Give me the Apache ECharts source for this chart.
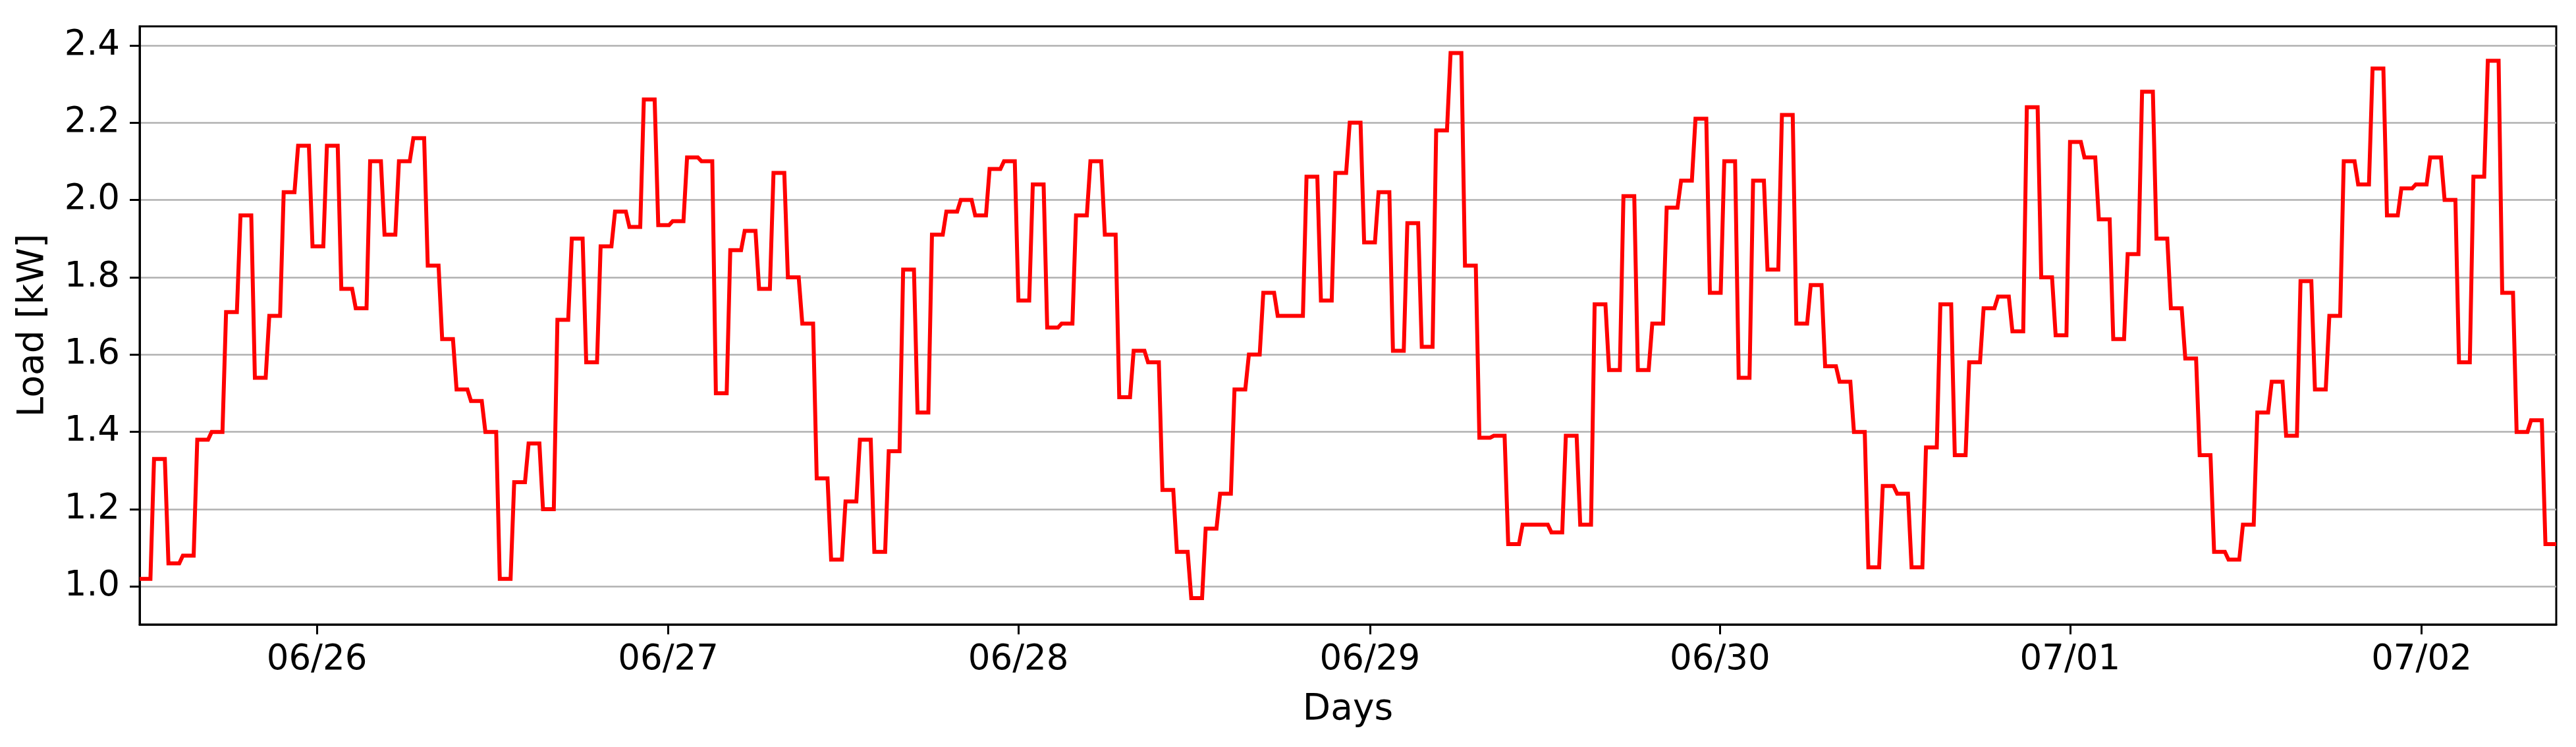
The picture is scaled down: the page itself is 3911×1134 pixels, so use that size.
<!DOCTYPE html>
<html>
<head>
<meta charset="utf-8">
<title>Load</title>
<script src="https://cdn.jsdelivr.net/npm/echarts@6/dist/echarts.min.js"></script>
<style>
  html, body { margin: 0; padding: 0; background: #fff; }
  #chart { width: 3911px; height: 1134px; }
</style>
</head>
<body>
<div id="chart"></div>
<script>
// hourly load [kW], 24 values per block, starting at the left edge of the plot
const loadBlock1 = [1.02, 1.33, 1.06, 1.08, 1.38, 1.40, 1.71, 1.96, 1.54, 1.70, 2.02, 2.14, 1.88, 2.14, 1.77, 1.72, 2.10, 1.91, 2.10, 2.16, 1.83, 1.64, 1.51, 1.48]
const loadBlock2 = [1.40, 1.02, 1.27, 1.37, 1.20, 1.69, 1.90, 1.58, 1.88, 1.97, 1.93, 2.26, 1.935, 1.945, 2.11, 2.10, 1.50, 1.87, 1.92, 1.77, 2.07, 1.80, 1.68, 1.28]
const loadBlock3 = [1.07, 1.22, 1.38, 1.09, 1.35, 1.82, 1.45, 1.91, 1.97, 2.00, 1.96, 2.08, 2.10, 1.74, 2.04, 1.67, 1.68, 1.96, 2.10, 1.91, 1.49, 1.61, 1.58, 1.25]
const loadBlock4 = [1.09, 0.97, 1.15, 1.24, 1.51, 1.60, 1.76, 1.70, 1.70, 2.06, 1.74, 2.07, 2.20, 1.89, 2.02, 1.61, 1.94, 1.62, 2.18, 2.38, 1.83, 1.385, 1.39, 1.11]
const loadBlock5 = [1.16, 1.16, 1.14, 1.39, 1.16, 1.73, 1.56, 2.01, 1.56, 1.68, 1.98, 2.05, 2.21, 1.76, 2.10, 1.54, 2.05, 1.82, 2.22, 1.68, 1.78, 1.57, 1.53, 1.40]
const loadBlock6 = [1.05, 1.26, 1.24, 1.05, 1.36, 1.73, 1.34, 1.58, 1.72, 1.75, 1.66, 2.24, 1.80, 1.65, 2.15, 2.11, 1.95, 1.64, 1.86, 2.28, 1.90, 1.72, 1.59, 1.34]
const loadBlock7 = [1.09, 1.07, 1.16, 1.45, 1.53, 1.39, 1.79, 1.51, 1.70, 2.10, 2.04, 2.34, 1.96, 2.03, 2.04, 2.11, 2.00, 1.58, 2.06, 2.36, 1.76, 1.40, 1.43, 1.11]

// day ticks, in hours from the first sample
const dayTicks = [12.3, 36.7, 61.0, 85.4, 109.7, 134.0, 158.4]
const dayLabels = ['06/26', '06/27', '06/28', '06/29', '06/30', '07/01', '07/02']
const loadTicks = [1.0, 1.2, 1.4, 1.6, 1.8, 2.0, 2.2, 2.4]

const hourly = [].concat(loadBlock1, loadBlock2, loadBlock3, loadBlock4, loadBlock5, loadBlock6, loadBlock7)

// the source is sampled every 15 minutes, each hourly value held for 4 samples
const samples = []
hourly.forEach((v, h) => {
    for (let q = 0; q < 4; q++) {
        samples.push([h + q * 0.25, v])
    }
})
const lastX = samples[samples.length - 1][0]

const font = 'DejaVu Sans'
const chart = echarts.init(document.getElementById('chart'), null, { renderer: 'canvas' })

chart.setOption({
    animation: false,
    backgroundColor: '#fff',
    grid: {
        left: 212,
        right: 30,
        top: 40,
        bottom: 186,
        show: true,
        borderColor: '#000',
        borderWidth: 3
    },
    xAxis: {
        type: 'value',
        min: 0,
        max: lastX,
        name: 'Days',
        nameLocation: 'middle',
        nameGap: 102,
        nameTextStyle: { fontFamily: font, fontSize: 55, color: '#000', verticalAlign: 'top' },
        axisLine: { show: true, onZero: false, lineStyle: { color: '#000', width: 3 } },
        axisTick: {
            show: true,
            customValues: dayTicks,
            length: 15,
            lineStyle: { color: '#000', width: 3 }
        },
        axisLabel: {
            customValues: dayTicks,
            margin: 28,
            fontFamily: font,
            fontSize: 53,
            color: '#000',
            formatter: v => {
                const i = dayTicks.findIndex(t => Math.abs(t - v) < 1e-6)
                return i >= 0 ? dayLabels[i] : ''
            }
        },
        splitLine: { show: false }
    },
    yAxis: {
        type: 'value',
        min: 0.902,
        max: 2.449,
        name: 'Load [kW]',
        nameLocation: 'middle',
        nameGap: 134,
        nameRotate: 90,
        nameTextStyle: { fontFamily: font, fontSize: 55, color: '#000' },
        axisLine: { show: true, lineStyle: { color: '#000', width: 3 } },
        axisTick: {
            show: true,
            customValues: loadTicks,
            length: 15,
            lineStyle: { color: '#000', width: 3 }
        },
        axisLabel: {
            customValues: loadTicks,
            margin: 30,
            fontFamily: font,
            fontSize: 53,
            color: '#000',
            formatter: v => v.toFixed(1)
        },
        splitLine: { show: true, lineStyle: { color: '#b0b0b0', width: 2.5 } }
    },
    series: [{
        type: 'line',
        data: samples,
        showSymbol: false,
        symbol: 'none',
        lineStyle: { color: '#ff0000', width: 6, join: 'miter' },
        itemStyle: { color: '#ff0000' },
        clip: true
    }]
})
</script>
</body>
</html>
